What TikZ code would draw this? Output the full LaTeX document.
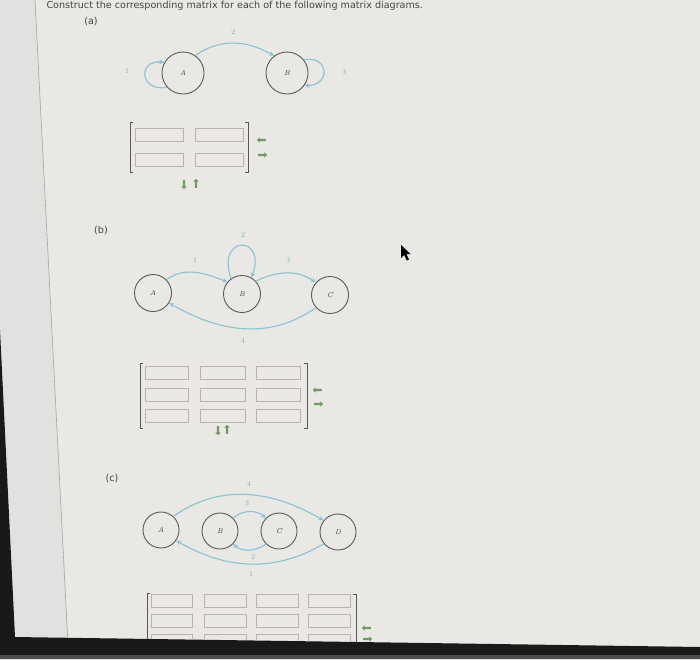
\documentclass[tikz,border=0pt]{standalone}
\usepackage{fontspec}
\setsansfont{DejaVu Sans}
\usetikzlibrary{arrows.meta,shapes.arrows}
\definecolor{bg}{HTML}{E9E8E5}
\definecolor{bgleft}{HTML}{E2E1DF}
\definecolor{edge}{HTML}{A4A4A4}
\definecolor{hdr}{HTML}{454545}
\definecolor{circ}{HTML}{5C5A58}
\definecolor{arrb}{HTML}{86C3D3}
\definecolor{numb}{HTML}{6FB2C8}
\definecolor{cellc}{HTML}{B9B3AC}
\definecolor{brk}{HTML}{5A5856}
\definecolor{gcol}{HTML}{6F9B62}
\tikzset{
  st/.style={circle, draw=circ, line width=0.9pt, inner sep=0pt, minimum size=#1,
             font=\itshape\fontsize{7}{8}\selectfont, text=black!80},
  arr/.style={draw=arrb, line width=1.1pt, -{Stealth[length=5pt,width=4.5pt]}},
  num/.style={text=numb, font=\fontsize{7.5}{8}\selectfont},
  cell/.style={draw=cellc, line width=0.5pt, minimum width=#1, minimum height=13pt, inner sep=0pt},
  brkt/.style={draw=brk, line width=0.8pt},
  gar/.style={single arrow, fill=gcol, draw=none, minimum height=9pt, minimum width=5pt,
              single arrow head extend=1.6pt, inner sep=0.9pt, shape border rotate=#1},
  lbl/.style={text=hdr, font=\sffamily\fontsize{9.6}{11}\selectfont}
}
\begin{document}
\begin{tikzpicture}[x=1pt,y=1pt]
\useasboundingbox (0,0) rectangle (700,-659);
\fill[bg] (0,0) rectangle (700,-659);
\fill[bgleft] (0,0) -- (35,0) -- (68,-645) -- (0,-645) -- cycle;
\draw[edge, line width=0.6pt] (35,0) -- (68,-645);
% dark photo edges
\fill[black!90] (0,-330) -- (15,-637) -- (700,-647) -- (700,-659) -- (0,-659) -- cycle;
\fill[black!70] (0,-655) rectangle (700,-659);

% header
\node[lbl, anchor=west] (title) at (43,-6)
  {Construct the corresponding matrix for each of the following matrix diagrams.};
\node[lbl] (la) at (91,-21) {(a)};
\node[lbl] (lb) at (101,-230) {(b)};
\node[lbl] (lc) at (112,-478) {(c)};

% ---------------- (a)
\node[st=42pt] (aA) at (183,-73) {A};
\node[st=42pt] (aB) at (287,-73) {B};
\draw[arr] (aA.222) to[out=190,in=175,looseness=2.8] (aA.150);
\draw[arr] (aA.55) to[out=35,in=150] (aB.127);
\draw[arr] (aB.38) to[out=10,in=0,looseness=2.6] (aB.-36);
\node[num] (an1) at (127,-71) {1};
\node[num] (an2) at (233,-32) {2};
\node[num] (an3) at (344,-72) {3};

\node[cell=48pt] (a11) at (159,-135) {};
\node[cell=48pt] (a12) at (219,-135) {};
\node[cell=48pt] (a21) at (159,-160) {};
\node[cell=48pt] (a22) at (219,-160) {};
\draw[brkt] (133,-122) -- (130,-122) -- (130,-172) -- (133,-172);
\draw[brkt] (245,-122) -- (248,-122) -- (248,-172) -- (245,-172);
\node[gar=180] (ag1) at (262,-140) {};
\node[gar=0] (ag2) at (262,-155) {};
\node[gar=270] (ag3) at (184,-184) {};
\node[gar=90] (ag4) at (196,-184) {};

% ---------------- (b)
\node[st=37pt] (bA) at (153,-293) {A};
\node[st=37pt] (bB) at (242,-294) {B};
\node[st=37pt] (bC) at (330,-295) {C};
\draw[arr] (bA.45) to[out=35,in=160] (bB.140);
\draw[arr] (bB.125) to[out=110,in=70,looseness=5.8] (bB.60);
\draw[arr] (bB.43) to[out=25,in=145] (bC.139);
\draw[arr] (bC.222) to[out=-145,in=-30] (bA.-32);
\node[num] (bn1) at (195,-260) {1};
\node[num] (bn2) at (243,-235) {2};
\node[num] (bn3) at (288,-260) {3};
\node[num] (bn4) at (243,-341) {4};

\foreach \r/\yy in {1/-373,2/-395,3/-416}{
  \node[cell=43pt] (b\r1) at (167,\yy) {};
  \node[cell=45pt] (b\r2) at (223,\yy) {};
  \node[cell=44pt] (b\r3) at (278,\yy) {};
}
\draw[brkt] (143,-363) -- (140,-363) -- (140,-428) -- (143,-428);
\draw[brkt] (304,-363) -- (307,-363) -- (307,-428) -- (304,-428);
\node[gar=180] (bg1) at (318,-390) {};
\node[gar=0] (bg2) at (318,-404) {};
\node[gar=270] (bg3) at (218,-430) {};
\node[gar=90] (bg4) at (227,-430) {};

% ---------------- (c)
\node[st=36pt] (cA) at (161,-530) {A};
\node[st=36pt] (cB) at (220,-531) {B};
\node[st=36pt] (cC) at (279,-531) {C};
\node[st=36pt] (cD) at (338,-532) {D};
\draw[arr] (cA.48) to[out=35,in=150] (cD.141);
\draw[arr] (cB.45) to[out=40,in=140] (cC.135);
\draw[arr] (cC.-135) to[out=-145,in=-40] (cB.-45);
\draw[arr] (cD.-140) to[out=-150,in=-30] (cA.-35);
\node[num] (cn4) at (249,-484) {4};
\node[num] (cn3) at (247,-503) {3};
\node[num] (cn2) at (253,-557) {2};
\node[num] (cn1) at (251,-574) {1};

\begin{scope}
\clip (0,0) -- (700,0) -- (700,-647) -- (15,-637) -- (0,-330) -- cycle;
\foreach \r/\yy in {1/-601,2/-621,3/-641}{
  \node[cell=41pt] (c\r1) at (172,\yy) {};
  \node[cell=42pt] (c\r2) at (225,\yy) {};
  \node[cell=42pt] (c\r3) at (277,\yy) {};
  \node[cell=42pt] (c\r4) at (329,\yy) {};
}
\draw[brkt] (150,-593) -- (147,-593) -- (147,-660);
\draw[brkt] (353,-594) -- (356,-594) -- (356,-660);
\node[gar=180] (cg1) at (367,-628) {};
\node[gar=0] (cg2) at (367,-639) {};
\end{scope}

% mouse pointer
\fill[black] (401,-245) -- (401,-258) -- (404.2,-255) -- (406.8,-260.5) -- (409,-259.5) -- (406.4,-254) -- (410.5,-254) -- cycle;
\end{tikzpicture}
\end{document}
